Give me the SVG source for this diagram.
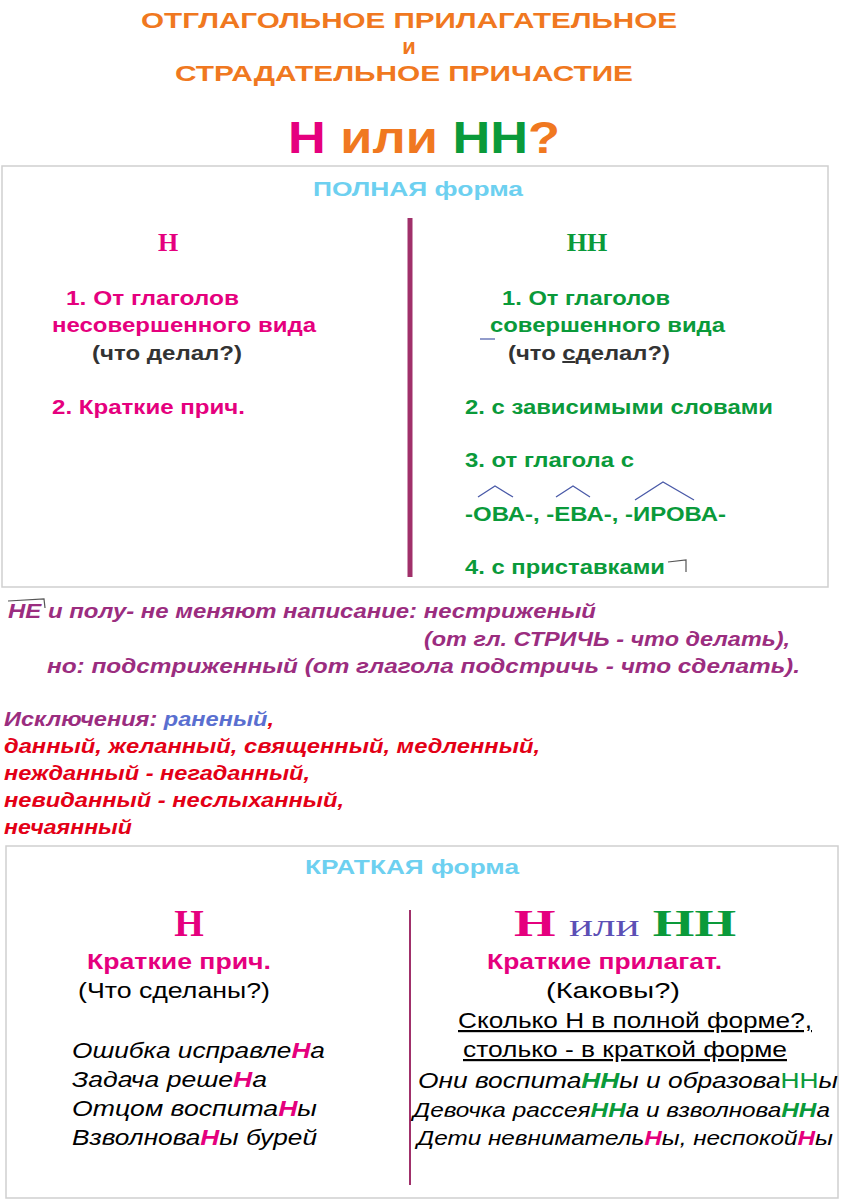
<svg xmlns="http://www.w3.org/2000/svg" width="841" height="1200" viewBox="0 0 841 1200">
<style>
text{font-family:"Liberation Sans",Arial,sans-serif}
.t{fill:#f07820;font-weight:bold;font-size:22px}
.b{font-weight:bold}
.pk{fill:#e5007e}.gr{fill:#0a9a3a}.lb{fill:#6dd0f0}.dk{fill:#333}
.pu{fill:#9b2d7f}.rd{fill:#e30016}.bl{fill:#5a6fd0}
.sr{font-family:"Liberation Serif","Times New Roman",serif;font-weight:bold}
.it{font-style:italic}
.box{fill:#fff;stroke:#cfcfcf;stroke-width:1.5}
.arc{fill:none;stroke:#4a5aa8;stroke-width:1.3}
</style>
<rect width="841" height="1200" fill="#fff"/>
<g id="title">
<text class="t" x="409" y="28" text-anchor="middle" textLength="536" lengthAdjust="spacingAndGlyphs">ОТГЛАГОЛЬНОЕ ПРИЛАГАТЕЛЬНОЕ</text>
<text class="t" x="409" y="54" text-anchor="middle" font-size="18">и</text>
<text class="t" x="404" y="81" text-anchor="middle" textLength="458" lengthAdjust="spacingAndGlyphs">СТРАДАТЕЛЬНОЕ ПРИЧАСТИЕ</text>
<text x="424" y="153" text-anchor="middle" font-size="44" font-weight="bold" textLength="272" lengthAdjust="spacingAndGlyphs"><tspan class="pk">Н</tspan><tspan fill="#f07820"> или </tspan><tspan class="gr">НН</tspan><tspan fill="#f07820">?</tspan></text>
</g>
<g id="full-form">
<rect class="box" x="2" y="166" width="826" height="421"/>
<text class="lb b" x="418" y="196" text-anchor="middle" font-size="20" textLength="210" lengthAdjust="spacingAndGlyphs">ПОЛНАЯ форма</text>
<line x1="410" y1="218" x2="410" y2="577" stroke="#a0306a" stroke-width="5"/>
<text class="sr pk" x="168" y="251" text-anchor="middle" font-size="26">Н</text>
<text class="sr gr" x="587" y="251" text-anchor="middle" font-size="26">НН</text>
<g class="b" font-size="20">
<text class="pk" x="66" y="305" textLength="173" lengthAdjust="spacingAndGlyphs">1. От глаголов</text>
<text class="pk" x="52" y="332" textLength="264" lengthAdjust="spacingAndGlyphs">несовершенного вида</text>
<text class="dk" x="92" y="360" textLength="150" lengthAdjust="spacingAndGlyphs">(что делал?)</text>
<text class="pk" x="52" y="414" textLength="193" lengthAdjust="spacingAndGlyphs">2. Краткие прич.</text>
<text class="gr" x="502" y="305" textLength="168" lengthAdjust="spacingAndGlyphs">1. От глаголов</text>
<text class="gr" x="490" y="332" textLength="235" lengthAdjust="spacingAndGlyphs">совершенного вида</text>
<text class="dk" x="508" y="360" textLength="162" lengthAdjust="spacingAndGlyphs">(что <tspan text-decoration="underline" style="text-decoration-color:#0a9a3a">с</tspan>делал?)</text>
<text class="gr" x="465" y="414" textLength="308" lengthAdjust="spacingAndGlyphs">2. с зависимыми словами</text>
<text class="gr" x="465" y="467" textLength="169" lengthAdjust="spacingAndGlyphs">3. от глагола с</text>
<text class="gr" x="465" y="521" textLength="261" lengthAdjust="spacingAndGlyphs">-ОВА-, -ЕВА-, -ИРОВА-</text>
<text class="gr" x="465" y="574" textLength="200" lengthAdjust="spacingAndGlyphs">4. с приставками</text>
</g>
<line x1="480" y1="339" x2="495" y2="339" stroke="#4a5aa8" stroke-width="1.2"/>
<polyline class="arc" points="478,497 495,486 513,497"/>
<polyline class="arc" points="556,497 573,486 590,497"/>
<polyline class="arc" points="635,500 663,482 694,500"/>
<polyline fill="none" stroke="#555" stroke-width="1.2" points="668,562 686,560 686,572"/>
</g>
<g id="note">
<polyline fill="none" stroke="#555" stroke-width="1.2" points="8,601 44,599 45,608"/>
<g class="b it pu" font-size="20">
<text x="8" y="618" textLength="588" lengthAdjust="spacingAndGlyphs">НЕ и полу- не меняют написание: нестриженый</text>
<text x="424" y="646" textLength="366" lengthAdjust="spacingAndGlyphs">(от гл. СТРИЧЬ - что делать),</text>
<text x="47" y="673" textLength="753" lengthAdjust="spacingAndGlyphs">но: подстриженный (от глагола подстричь - что сделать).</text>
</g>
</g>
<g id="exceptions" class="b it" font-size="20">
<text x="4" y="726" textLength="270" lengthAdjust="spacingAndGlyphs"><tspan class="pu">Исключения: </tspan><tspan class="bl">раненый</tspan><tspan class="rd">,</tspan></text>
<text class="rd" x="4" y="753" textLength="536" lengthAdjust="spacingAndGlyphs">данный, желанный, священный, медленный,</text>
<text class="rd" x="4" y="780" textLength="306" lengthAdjust="spacingAndGlyphs">нежданный - негаданный,</text>
<text class="rd" x="4" y="807" textLength="340" lengthAdjust="spacingAndGlyphs">невиданный - неслыханный,</text>
<text class="rd" x="4" y="834" textLength="128" lengthAdjust="spacingAndGlyphs">нечаянный</text>
</g>
<g id="short-form">
<rect class="box" x="6" y="846" width="832" height="352"/>
<text class="lb b" x="412" y="874" text-anchor="middle" font-size="20" textLength="214" lengthAdjust="spacingAndGlyphs">КРАТКАЯ форма</text>
<line x1="410" y1="910" x2="410" y2="1185" stroke="#a0306a" stroke-width="2"/>
<text class="sr pk" x="189" y="936" text-anchor="middle" font-size="38">Н</text>
<text x="625" y="936" text-anchor="middle" font-size="38" textLength="222" lengthAdjust="spacingAndGlyphs"><tspan class="sr pk">Н </tspan><tspan font-family="Liberation Serif,serif" fill="#5c4fb5" font-size="32">или</tspan><tspan class="sr gr"> НН</tspan></text>
<text class="pk b" x="87" y="969" font-size="22" textLength="184" lengthAdjust="spacingAndGlyphs">Краткие прич.</text>
<text x="78" y="998" font-size="22" textLength="192" lengthAdjust="spacingAndGlyphs">(Что сделаны?)</text>
<text class="pk b" x="487" y="969" font-size="22" textLength="235" lengthAdjust="spacingAndGlyphs">Краткие прилагат.</text>
<text x="546" y="998" font-size="22" textLength="134" lengthAdjust="spacingAndGlyphs">(Каковы?)</text>
<text x="458" y="1028" font-size="22" text-decoration="underline" textLength="354" lengthAdjust="spacingAndGlyphs">Сколько Н в полной форме?,</text>
<text x="463" y="1057" font-size="22" text-decoration="underline" textLength="324" lengthAdjust="spacingAndGlyphs">столько - в краткой форме</text>
<g class="it" font-size="22">
<text x="72" y="1058" textLength="253" lengthAdjust="spacingAndGlyphs">Ошибка исправле<tspan class="pk b">Н</tspan>а</text>
<text x="72" y="1087" textLength="195" lengthAdjust="spacingAndGlyphs">Задача реше<tspan class="pk b">Н</tspan>а</text>
<text x="72" y="1116" textLength="245" lengthAdjust="spacingAndGlyphs">Отцом воспита<tspan class="pk b">Н</tspan>ы</text>
<text x="72" y="1145" textLength="245" lengthAdjust="spacingAndGlyphs">Взволнова<tspan class="pk b">Н</tspan>ы бурей</text>
<text x="418" y="1088" textLength="420" lengthAdjust="spacingAndGlyphs">Они воспита<tspan class="gr b">НН</tspan>ы и образова<tspan class="gr" font-style="normal">НН</tspan>ы</text>
<text x="413" y="1117" font-size="21" textLength="417" lengthAdjust="spacingAndGlyphs">Девочка рассея<tspan class="gr b">НН</tspan>а и взволнова<tspan class="gr b">НН</tspan>а</text>
<text x="417" y="1145" font-size="21" textLength="416" lengthAdjust="spacingAndGlyphs">Дети невниматель<tspan class="pk b">Н</tspan>ы, неспокой<tspan class="pk b">Н</tspan>ы</text>
</g>
</g>
</svg>
